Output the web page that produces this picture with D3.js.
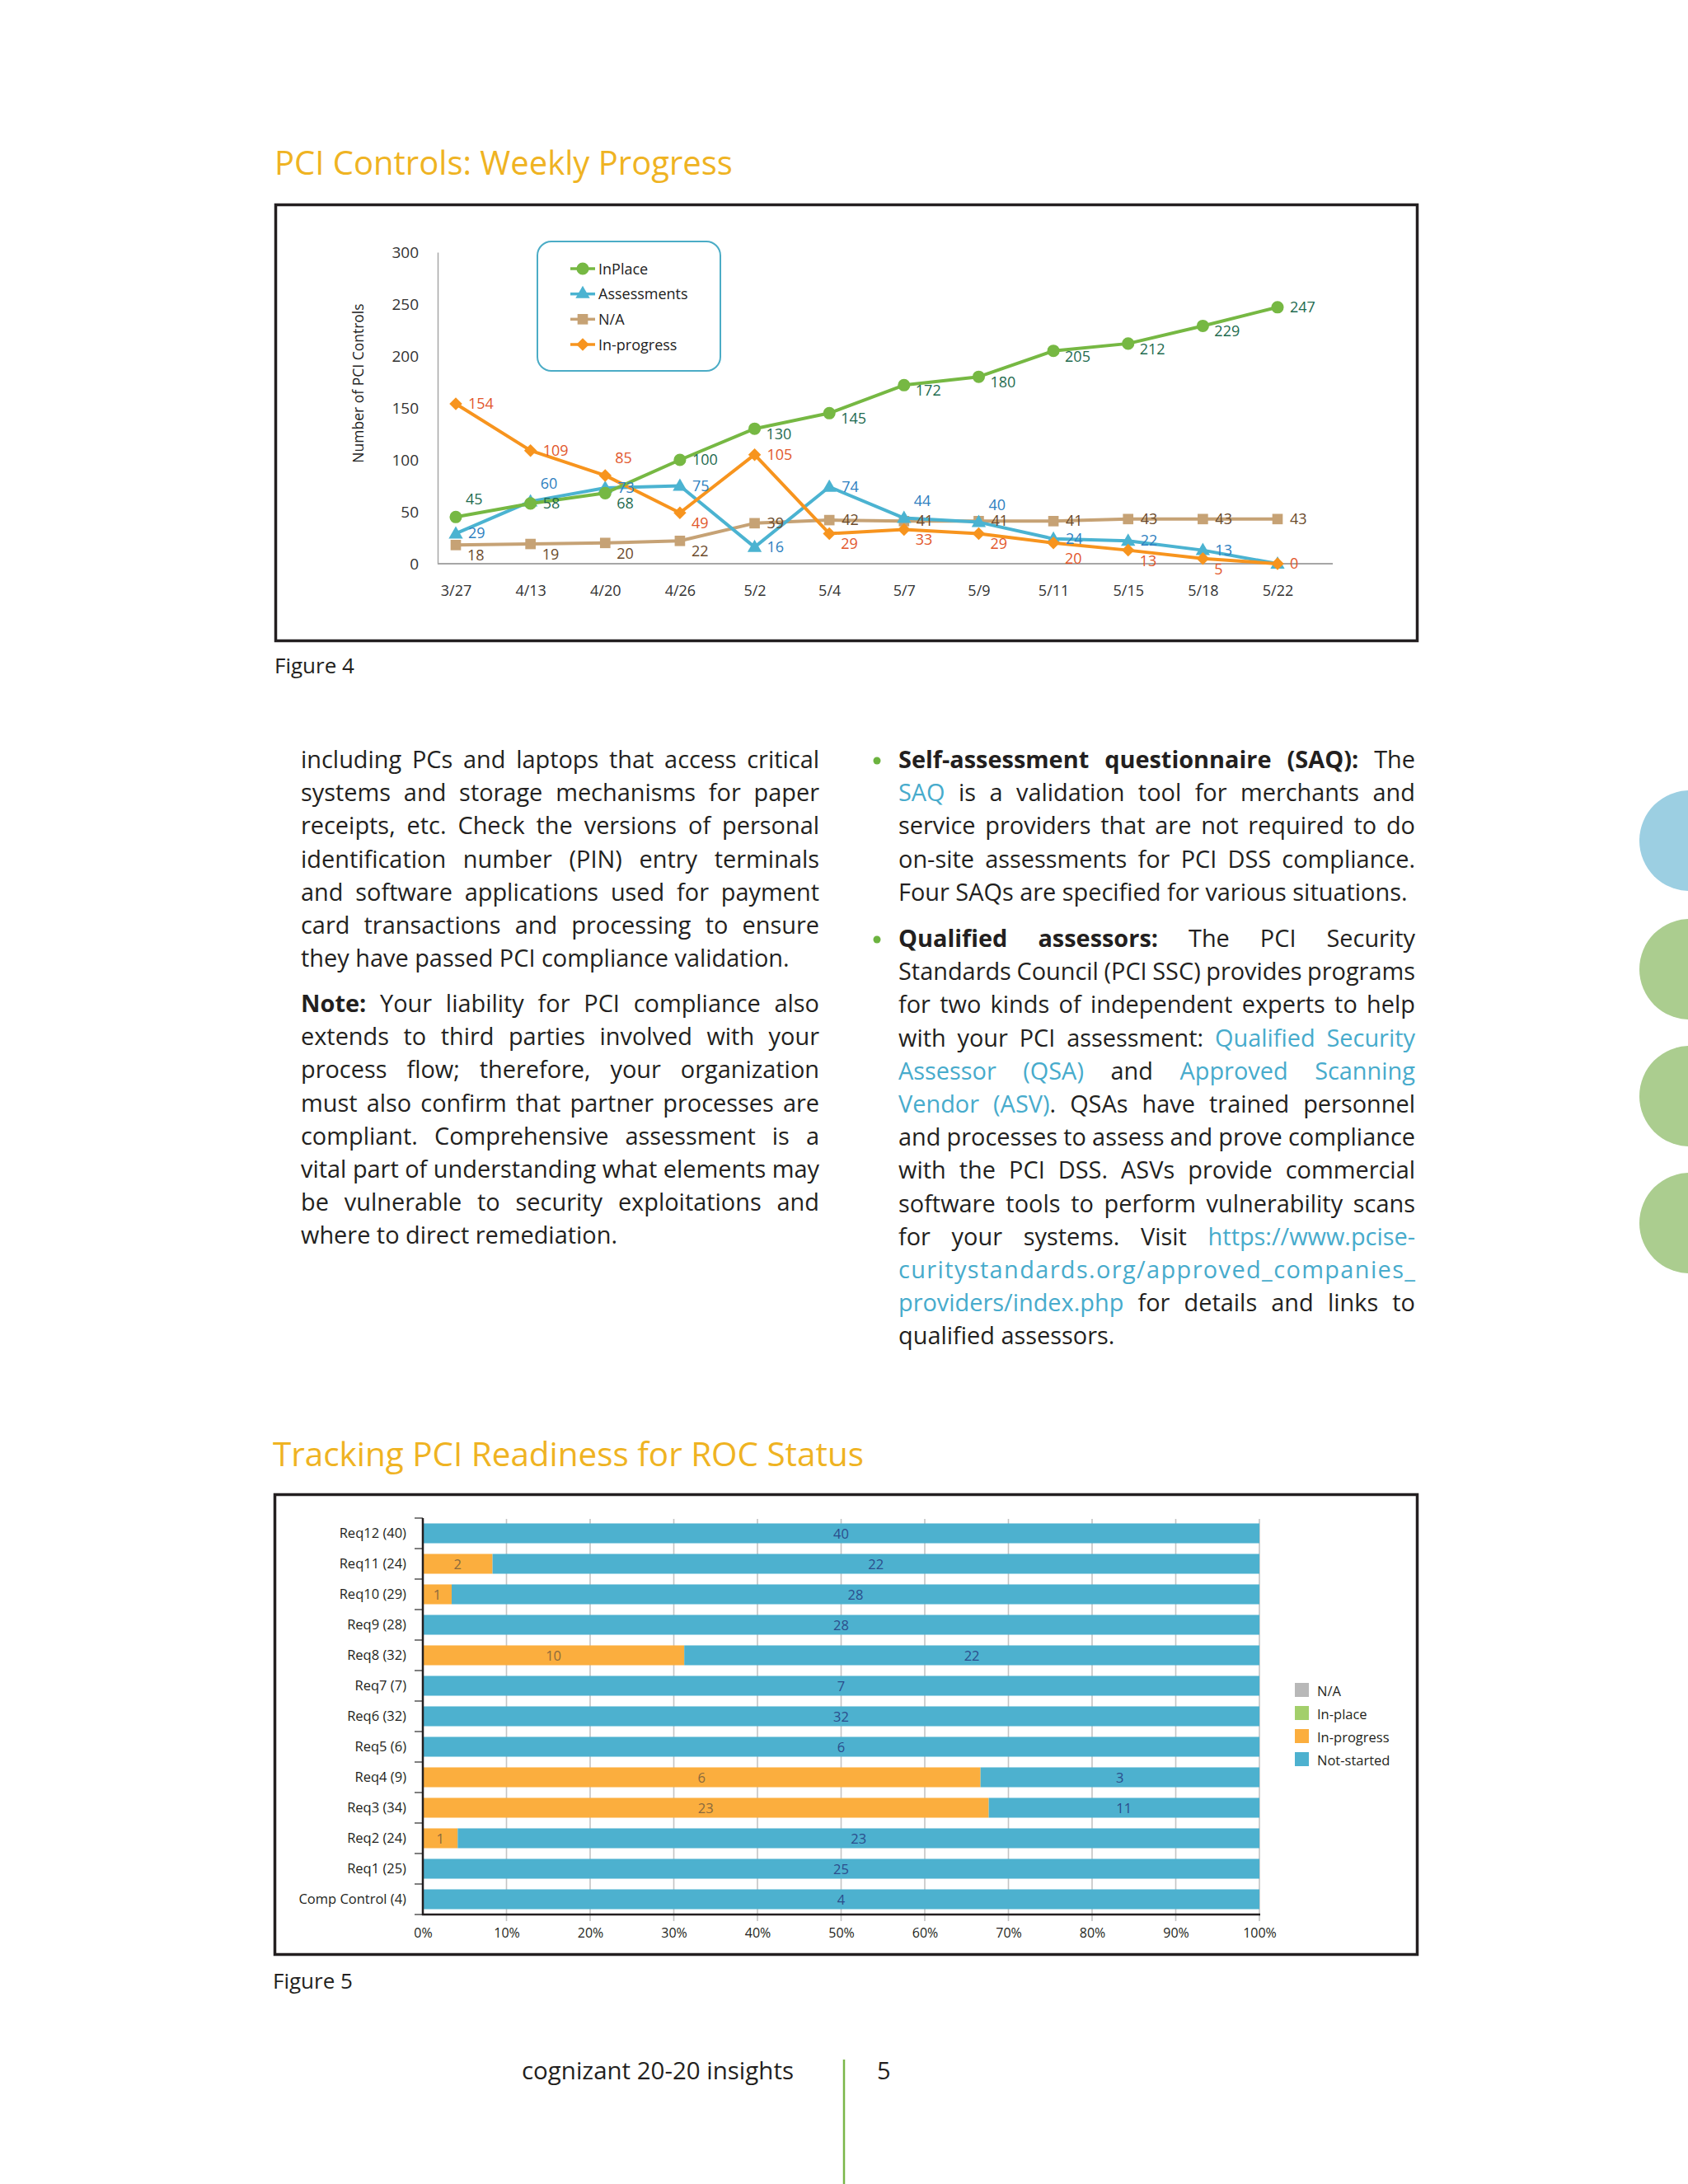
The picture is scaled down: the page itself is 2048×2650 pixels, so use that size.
<!DOCTYPE html>
<html>
<head>
<meta charset="utf-8">
<script src="https://cdn.jsdelivr.net/npm/d3@7"></script>
<style>
  html, body { margin: 0; padding: 0; background: #ffffff; }
  svg { display: block; }
</style>
</head>
<body>
<svg id="page" width="2048" height="2650"></svg>
<script>
// ---------------- DATA ----------------
const weekDates = ["3/27","4/13","4/20","4/26","5/2","5/4","5/7","5/9","5/11","5/15","5/18","5/22"];
const inPlace       = [45, 58, 68, 100, 130, 145, 172, 180, 205, 212, 229, 247];
const assessments   = [29, 60, 73, 75, 16, 74, 44, 40, 24, 22, 13, 0];
const notApplicable = [18, 19, 20, 22, 39, 42, 41, 41, 41, 43, 43, 43];
const inProgress    = [154, 109, 85, 49, 105, 29, 33, 29, 20, 13, 5, 0];
const weeklyTicks   = [0, 50, 100, 150, 200, 250, 300];
const weeklySeriesNames = ["InPlace", "Assessments", "N/A", "In-progress"];

const reqCategories = ["Req12 (40)","Req11 (24)","Req10 (29)","Req9 (28)","Req8 (32)","Req7 (7)",
  "Req6 (32)","Req5 (6)","Req4 (9)","Req3 (34)","Req2 (24)","Req1 (25)","Comp Control (4)"];
const reqNA         = [0,0,0,0,0,0,0,0,0,0,0,0,0];
const reqInPlace    = [0,0,0,0,0,0,0,0,0,0,0,0,0];
const reqInProgress = [0,2,1,0,10,0,0,0,6,23,1,0,0];
const reqNotStarted = [40,22,28,28,22,7,32,6,3,11,23,25,4];
const reqSeriesNames = ["N/A","In-place","In-progress","Not-started"];
const pctTicks = [0,0.1,0.2,0.3,0.4,0.5,0.6,0.7,0.8,0.9,1];

// label placement codes: r = right, c = right, slightly below, b = right-below,
// d = right, well below, a = right-above, n = none
const labelPlacement = {
  "InPlace":     ["a","r","b","r","c","c","c","c","c","c","c","r"],
  "Assessments": ["r","a","r","r","r","r","a","a","r","r","r","n"],
  "N/A":         ["b","b","b","b","r","r","r","r","r","r","r","r"],
  "In-progress": ["r","r","a","b","r","b","b","b","d","b","b","r"]
};

// ---------------- TEXT ----------------
const titleWeekly = "PCI Controls: Weekly Progress";
const titleRoc = "Tracking PCI Readiness for ROC Status";
const leftParas = [
  [
    [["including PCs and laptops that access critical","n"]],
    [["systems and storage mechanisms for paper","n"]],
    [["receipts, etc. Check the versions of personal","n"]],
    [["identification number (PIN) entry terminals","n"]],
    [["and software applications used for payment","n"]],
    [["card transactions and processing to ensure","n"]],
    [["they have passed PCI compliance validation.","n"]]
  ],
  [
    [["Note:","b"],[" Your liability for PCI compliance also","n"]],
    [["extends to third parties involved with your","n"]],
    [["process flow; therefore, your organization","n"]],
    [["must also confirm that partner processes are","n"]],
    [["compliant. Comprehensive assessment is a","n"]],
    [["vital part of understanding what elements may","n"]],
    [["be vulnerable to security exploitations and","n"]],
    [["where to direct remediation.","n"]]
  ]
];
const rightParas = [
  [
    [["Self-assessment questionnaire (SAQ):","b"],[" The","n"]],
    [["SAQ","l"],[" is a validation tool for merchants and","n"]],
    [["service providers that are not required to do","n"]],
    [["on-site assessments for PCI DSS compliance.","n"]],
    [["Four SAQs are specified for various situations.","n"]]
  ],
  [
    [["Qualified assessors:","b"],[" The PCI Security","n"]],
    [["Standards Council (PCI SSC) provides programs","n"]],
    [["for two kinds of independent experts to help","n"]],
    [["with your PCI assessment: ","n"],["Qualified Security","l"]],
    [["Assessor (QSA)","l"],[" and ","n"],["Approved Scanning","l"]],
    [["Vendor (ASV)","l"],[". QSAs have trained personnel","n"]],
    [["and processes to assess and prove compliance","n"]],
    [["with the PCI DSS. ASVs provide commercial","n"]],
    [["software tools to perform vulnerability scans","n"]],
    [["for your systems. Visit ","n"],["https://www.pcise-","l"]],
    [["curitystandards.org/approved_companies_","l"]],
    [["providers/index.php","l"],[" for details and links to","n"]],
    [["qualified assessors.","n"]]
  ]
];

// ---------------- STYLE ----------------
const FONT = "'Open Sans', 'DejaVu Sans', sans-serif";
const TEXT = "#231f20";
const GOLD = "#efb322";
const LINK = "#47abcc";
const weeklyColors = { "InPlace": "#76b843", "Assessments": "#4bb3d1", "N/A": "#c6a275", "In-progress": "#f7941e" };
const weeklyLabelColors = { "InPlace": "#1e6b4f", "Assessments": "#2e80c0", "N/A": "#6b4a2b", "In-progress": "#e2572c" };
const reqColors = { "N/A": "#b8b8b8", "In-place": "#a3cf6b", "In-progress": "#fbae3e", "Not-started": "#4db1cf" };
const reqLabelColors = { "In-progress": "#8a6a3d", "Not-started": "#2b4d8c" };

const canvas = document.createElement("canvas");
const ctx = canvas.getContext("2d");
function fitSize(text, weight, target) {
  ctx.font = `${weight} 100px ${FONT}`;
  return 100 * target / ctx.measureText(text).width;
}

const svg = d3.select("#page");
svg.append("rect").attr("width", 2048).attr("height", 2650).attr("fill", "#ffffff");

// ---------------- TITLES / CAPTIONS ----------------
svg.append("text").attr("x", 333).attr("y", 212)
  .style("font-family", FONT).style("font-weight", 500)
  .style("font-size", fitSize(titleWeekly, 500, 556) + "px")
  .attr("fill", GOLD).text(titleWeekly);
svg.append("text").attr("x", 331).attr("y", 1779)
  .style("font-family", FONT).style("font-weight", 500)
  .style("font-size", fitSize(titleRoc, 500, 717) + "px")
  .attr("fill", GOLD).text(titleRoc);
svg.append("text").attr("x", 333).attr("y", 817)
  .style("font-family", FONT).style("font-size", "26px").attr("fill", TEXT).text("Figure 4");
svg.append("text").attr("x", 331).attr("y", 2413)
  .style("font-family", FONT).style("font-size", "26px").attr("fill", TEXT).text("Figure 5");

// ---------------- CHART 1: weekly progress ----------------
svg.append("rect").attr("x", 334.5).attr("y", 248.5).attr("width", 1385).attr("height", 529)
  .attr("fill", "none").attr("stroke", TEXT).attr("stroke-width", 3.5);

const xW = d3.scalePoint().domain(weekDates).range([553, 1550]);
const yW = d3.scaleLinear().domain([0, 300]).range([684, 306]);
const g1 = svg.append("g");

const yAx = g1.append("g").attr("transform", "translate(531,0)")
  .call(d3.axisLeft(yW).tickValues(weeklyTicks).tickSize(0).tickSizeOuter(0).tickPadding(23));
yAx.select(".domain").attr("stroke", "#a6a6a6").attr("stroke-width", 1.5);
yAx.selectAll("text").style("font-family", FONT).style("font-size", "19px").attr("fill", "#333");

const xAx = g1.append("g").attr("transform", `translate(0,${yW(0)})`)
  .call(d3.axisBottom(xW).tickSize(0));
xAx.select(".domain").remove();
xAx.selectAll("text").attr("y", 39).attr("dy", 0)
  .style("font-family", FONT).style("font-size", "18px").attr("fill", "#333");
g1.append("line").attr("x1", 531).attr("x2", 1617).attr("y1", yW(0)).attr("y2", yW(0))
  .attr("stroke", "#a6a6a6").attr("stroke-width", 1.8);

g1.append("text").attr("transform", "translate(441,465) rotate(-90)")
  .attr("text-anchor", "middle").style("font-family", FONT).style("font-size", "17.5px")
  .attr("fill", "#222").text("Number of PCI Controls");

const weeklySeries = {
  "InPlace": inPlace, "Assessments": assessments, "N/A": notApplicable, "In-progress": inProgress
};
const symbols = {
  "InPlace": d3.symbol(d3.symbolCircle, 180),
  "Assessments": d3.symbol(d3.symbolTriangle, 130),
  "N/A": d3.symbol(d3.symbolSquare, 160),
  "In-progress": d3.symbol(d3.symbolSquare, 120)
};
const symRot = { "InPlace": 0, "Assessments": 0, "N/A": 0, "In-progress": 45 };
const lineGen = d3.line().x((d, i) => xW(weekDates[i])).y(d => yW(d));
const drawOrder = ["N/A", "Assessments", "In-progress", "InPlace"];
drawOrder.forEach(name => {
  const vals = weeklySeries[name];
  const sg = g1.append("g");
  sg.append("path").attr("d", lineGen(vals)).attr("fill", "none")
    .attr("stroke", weeklyColors[name]).attr("stroke-width", 4).attr("stroke-linejoin", "round");
  sg.selectAll("path.m").data(vals).join("path").attr("class", "m")
    .attr("d", symbols[name]())
    .attr("transform", (d, i) => `translate(${xW(weekDates[i])},${yW(d) + (name === "Assessments" ? 1 : 0)}) rotate(${symRot[name]})`)
    .attr("fill", weeklyColors[name]);
});
const off = { r: [15, 6], c: [14, 13], b: [14, 19], d: [14, 25], a: [12, -15] };
drawOrder.forEach(name => {
  const vals = weeklySeries[name];
  g1.append("g").selectAll("text").data(vals).join("text")
    .filter((d, i) => labelPlacement[name][i] !== "n")
    .attr("x", (d, i) => xW(weekDates[i]) + off[labelPlacement[name][i]][0])
    .attr("y", (d, i) => yW(d) + off[labelPlacement[name][i]][1])
    .style("font-family", FONT).style("font-size", "18px")
    .attr("fill", weeklyLabelColors[name]).text(d => d);
});

// legend
const lg = svg.append("g");
lg.append("rect").attr("x", 652).attr("y", 293).attr("width", 222).attr("height", 157).attr("rx", 17)
  .attr("fill", "#fff").attr("stroke", "#4bacc6").attr("stroke-width", 2);
const legendY = d3.scalePoint().domain(weeklySeriesNames).range([326, 418]);
weeklySeriesNames.forEach(name => {
  const yy = legendY(name);
  lg.append("line").attr("x1", 692).attr("x2", 722).attr("y1", yy).attr("y2", yy)
    .attr("stroke", weeklyColors[name]).attr("stroke-width", 3.5);
  lg.append("path").attr("d", symbols[name]())
    .attr("transform", `translate(707,${yy}) rotate(${symRot[name]})`).attr("fill", weeklyColors[name]);
  lg.append("text").attr("x", 726).attr("y", yy + 6.5).style("font-family", FONT).style("font-size", "18px")
    .attr("fill", "#222").text(name);
});

// ---------------- BODY TEXT ----------------
const bodySize = fitSize("they have passed PCI compliance validation.", 400, 593);
const body = svg.append("g").style("font-family", FONT).style("font-size", bodySize + "px")
  .style("white-space", "pre");
function drawPara(lines, x, w, y0, lh) {
  lines.forEach((segs, i) => {
    const t = body.append("text").attr("x", x).attr("y", y0 + i * lh);
    segs.forEach(([s, k]) => t.append("tspan").text(s)
      .style("font-weight", k === "b" ? 700 : 400)
      .attr("fill", k === "l" ? LINK : TEXT));
    if (i < lines.length - 1) {
      const nat = t.node().getComputedTextLength();
      const full = segs.map(s => s[0]).join("");
      const spaces = (full.match(/ /g) || []).length;
      if (spaces > 0) t.style("word-spacing", ((w - nat) / spaces) + "px");
      else t.style("letter-spacing", ((w - nat) / (full.length - 1)) + "px");
    }
  });
}
const LH = 40.2;
drawPara(leftParas[0], 365, 629, 932, LH);
drawPara(leftParas[1], 365, 629, 1228, LH);
drawPara(rightParas[0], 1090, 627, 932, LH);
drawPara(rightParas[1], 1090, 627, 1149, LH);
[932, 1149].forEach(yb => body.append("circle").attr("cx", 1064).attr("cy", yb - 9).attr("r", 4.5).attr("fill", "#6cb33f"));

// side decoration circles
const sideFills = ["#9ccfe2", "#abcd8f", "#abcd8f", "#abcd8f"];
const sideY = [1020, 1176, 1330, 1484];
svg.append("g").selectAll("circle").data(sideY).join("circle")
  .attr("cx", 2050).attr("cy", d => d).attr("r", 61).attr("fill", (d, i) => sideFills[i]);

// ---------------- CHART 2: ROC readiness ----------------
svg.append("rect").attr("x", 333.5).attr("y", 1813.5).attr("width", 1386).attr("height", 558)
  .attr("fill", "none").attr("stroke", TEXT).attr("stroke-width", 3.5);

const xR = d3.scaleLinear().domain([0, 1]).range([513, 1528]);
const yR = d3.scaleBand().domain(reqCategories).range([1842, 2323]).paddingInner(0.35).paddingOuter(0.175);
const g2 = svg.append("g");

// gridlines
g2.append("g").selectAll("line").data(pctTicks.slice(1)).join("line")
  .attr("x1", d => xR(d)).attr("x2", d => xR(d)).attr("y1", 1843).attr("y2", 2331)
  .attr("stroke", "#c4c4c4").attr("stroke-width", 1.6);

const rows = reqCategories.map((c, i) => ({
  cat: c, "N/A": reqNA[i], "In-place": reqInPlace[i], "In-progress": reqInProgress[i], "Not-started": reqNotStarted[i]
}));
const stacked = d3.stack().keys(reqSeriesNames).offset(d3.stackOffsetExpand)(rows);
stacked.forEach(layer => {
  const key = layer.key;
  const lg2 = g2.append("g");
  lg2.selectAll("rect").data(layer).join("rect")
    .attr("x", d => xR(d[0])).attr("width", d => Math.max(0, xR(d[1]) - xR(d[0])))
    .attr("y", d => yR(d.data.cat)).attr("height", yR.bandwidth())
    .attr("fill", reqColors[key]);
  lg2.selectAll("text").data(layer.filter(d => d.data[key] > 0)).join("text")
    .attr("x", d => (xR(d[0]) + xR(d[1])) / 2).attr("y", d => yR(d.data.cat) + yR.bandwidth() / 2 + 6)
    .attr("text-anchor", "middle").style("font-family", FONT).style("font-size", "16.5px")
    .attr("fill", reqLabelColors[key]).text(d => d.data[key]);
});

// axes
const yAx2 = g2.append("g").attr("transform", "translate(513,0)")
  .call(d3.axisLeft(yR).tickSize(0).tickPadding(20));
yAx2.select(".domain").remove();
yAx2.selectAll("text").style("font-family", FONT).style("font-size", "16.5px").attr("fill", TEXT);
const bounds = reqCategories.map(c => yR(c) - yR.step() * yR.paddingInner() / 2).concat([yR.range()[1]]);
g2.append("g").selectAll("line").data(bounds).join("line")
  .attr("x1", 503).attr("x2", 513).attr("y1", d => d).attr("y2", d => d)
  .attr("stroke", "#555").attr("stroke-width", 1.5);
g2.append("line").attr("x1", 513).attr("x2", 513).attr("y1", 1842).attr("y2", 2324)
  .attr("stroke", TEXT).attr("stroke-width", 2.5);
const xAx2 = g2.append("g").attr("transform", "translate(0,2323)")
  .call(d3.axisBottom(xR).tickValues(pctTicks).tickFormat(d3.format(".0%")).tickSize(0));
xAx2.select(".domain").remove();
xAx2.selectAll("text").attr("y", 28).attr("dy", 0)
  .style("font-family", FONT).style("font-size", "16px").attr("fill", TEXT);
g2.append("line").attr("x1", 512).attr("x2", 1529).attr("y1", 2323).attr("y2", 2323)
  .attr("stroke", TEXT).attr("stroke-width", 2.5);

// legend 2
const legendY2 = d3.scalePoint().domain(reqSeriesNames).range([2042, 2126]);
const lg3 = svg.append("g");
reqSeriesNames.forEach(name => {
  lg3.append("rect").attr("x", 1571).attr("y", legendY2(name)).attr("width", 17).attr("height", 17)
    .attr("fill", reqColors[name]);
  lg3.append("text").attr("x", 1598).attr("y", legendY2(name) + 16)
    .style("font-family", FONT).style("font-size", "16.5px").attr("fill", TEXT).text(name);
});

// ---------------- FOOTER ----------------
svg.append("text").attr("x", 633).attr("y", 2523).style("font-family", FONT)
  .style("font-size", fitSize("cognizant 20-20 insights", 400, 330) + "px").attr("fill", TEXT)
  .text("cognizant 20-20 insights");
svg.append("text").attr("x", 1064).attr("y", 2523).style("font-family", FONT)
  .style("font-size", "29px").attr("fill", TEXT).text("5");
svg.append("line").attr("x1", 1024).attr("x2", 1024).attr("y1", 2499).attr("y2", 2650)
  .attr("stroke", "#7ab648").attr("stroke-width", 2.5);
</script>
</body>
</html>
